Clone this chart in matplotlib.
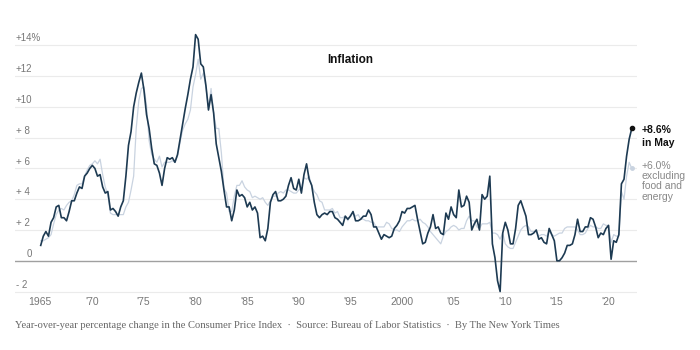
import numpy as np
import pandas as pd
import matplotlib
matplotlib.use('Agg')
import matplotlib.pyplot as plt

# quarterly readings (mid-month of each quarter: Feb, May, Aug, Nov), 1965Q1 - 2022Q2
cpi_all = [
  1.0, 1.6, 1.9, 1.6,   2.5, 2.8, 3.5, 3.6,   2.8, 2.8, 2.6, 3.2,   3.9, 3.9, 4.4, 4.8,
  4.7, 5.5, 5.7, 6.0,   6.2, 6.0, 5.5, 5.6,   4.8, 4.4, 4.5, 3.3,   3.4, 3.2, 2.9, 3.5,
  3.9, 5.5, 7.5, 8.4,   10.0, 10.9, 11.6, 12.2, 11.1, 9.5, 8.6, 7.3, 6.3, 6.2, 5.7, 4.9,
  6.0, 6.7, 6.6, 6.7,   6.4, 6.9, 7.9, 8.9,   9.9, 10.8, 11.8, 12.6, 14.7, 14.4, 12.8, 12.6,
  11.4, 9.8, 10.8, 9.6, 7.6, 6.7, 5.8, 4.6,   3.5, 3.5, 2.6, 3.3,   4.6, 4.2, 4.3, 4.1,
  3.5, 3.8, 3.3, 3.5,   3.1, 1.5, 1.6, 1.3,   2.1, 3.8, 4.3, 4.5,   3.9, 3.9, 4.0, 4.2,
  4.9, 5.4, 4.7, 4.6,   5.3, 4.4, 5.6, 6.3,   5.3, 4.9, 3.8, 3.0,   2.8, 3.0, 3.1, 3.0,
  3.2, 3.2, 2.8, 2.7,   2.5, 2.3, 2.9, 2.7,   2.9, 3.2, 2.6, 2.6,   2.7, 2.9, 2.9, 3.3,
  3.0, 2.2, 2.2, 1.8,   1.4, 1.7, 1.6, 1.5,   1.6, 2.1, 2.3, 2.6,   3.2, 3.1, 3.4, 3.4,
  3.5, 3.6, 2.7, 1.9,   1.1, 1.2, 1.8, 2.2,   3.0, 2.1, 2.2, 1.8,   1.7, 3.1, 2.7, 3.5,
  3.0, 2.8, 4.6, 3.5,   3.6, 4.2, 3.8, 2.0,   2.4, 2.7, 2.0, 4.3,   4.0, 4.2, 5.5, 1.1,
  0.2, -1.3, -2.0, 1.8, 2.5, 2.0, 1.1, 1.1,   2.1, 3.6, 3.9, 3.4,   2.9, 1.7, 1.7, 1.8,
  2.0, 1.4, 1.5, 1.2,   1.1, 2.1, 1.7, 1.3,   0.0, 0.0, 0.2, 0.5,   1.0, 1.0, 1.1, 1.7,
  2.7, 1.9, 1.9, 2.2,   2.2, 2.8, 2.7, 2.2,   1.5, 1.8, 1.7, 2.1,   2.3, 0.1, 1.3, 1.2,
  1.7, 5.0, 5.3, 6.8,   7.9, 8.6,
]
cpi_core = [
  1.3, 1.3, 1.4, 1.5,   1.7, 2.4, 3.0, 3.3,   3.4, 3.3, 3.6, 3.8,   3.9, 4.3, 4.9, 5.0,
  5.0, 5.5, 5.9, 6.2,   6.3, 6.5, 6.3, 6.6,   5.6, 4.8, 4.3, 3.1,   3.0, 3.0, 3.0, 3.0,
  3.0, 3.5, 3.8, 4.6,   5.5, 8.6, 10.4, 11.2, 11.3, 10.1, 7.8, 6.9, 6.6, 6.4, 6.8, 6.1,
  6.4, 6.4, 6.4, 6.5,   6.4, 6.8, 7.7, 8.5,   8.9, 9.2, 9.8, 11.3,  12.1, 13.1, 11.8, 12.2,
  11.3, 10.0, 11.2, 9.6, 8.6, 8.6, 7.0, 4.7,  4.4, 3.2, 3.2, 4.2,   4.9, 4.9, 5.2, 4.8,
  4.6, 4.5, 4.1, 4.2,   4.1, 4.0, 4.1, 3.8,   3.6, 3.9, 4.2, 4.2,   4.4, 4.5, 4.4, 4.6,
  4.6, 4.5, 4.4, 4.4,   4.6, 4.7, 5.4, 5.3,   5.5, 4.9, 4.5, 4.3,   3.9, 3.8, 3.3, 3.3,
  3.3, 3.4, 3.1, 3.2,   2.8, 2.8, 2.9, 2.6,   3.0, 3.1, 2.9, 3.0,   2.7, 2.7, 2.6, 2.6,
  2.5, 2.5, 2.2, 2.2,   2.2, 2.2, 2.5, 2.4,   2.1, 2.0, 2.0, 1.9,   2.2, 2.4, 2.6, 2.6,
  2.7, 2.6, 2.6, 2.7,   2.5, 2.4, 2.2, 1.9,   1.7, 1.5, 1.3, 1.1,   1.6, 1.9, 2.0, 2.2,
  2.3, 2.2, 2.0, 2.1,   2.1, 2.6, 2.9, 2.6,   2.6, 2.2, 2.1, 2.4,   2.4, 2.4, 2.5, 1.8,
  1.8, 1.7, 1.4, 1.8,   1.1, 0.9, 0.8, 0.8,   1.2, 1.6, 2.0, 2.2,   2.3, 2.2, 1.9, 1.9,
  1.9, 1.6, 1.7, 1.7,   1.6, 1.9, 1.7, 1.6,   1.7, 1.8, 1.8, 2.1,   2.2, 2.2, 2.2, 2.2,
  2.0, 1.7, 1.7, 1.8,   2.1, 2.3, 2.2, 2.2,   2.1, 2.1, 2.4, 2.3,   2.3, 1.2, 1.7, 1.6,
  1.6, 4.5, 4.0, 5.5,   6.4, 6.0,
]
ytick_vals = [14, 12, 10, 8, 6, 4, 2, 0, -2]
ytick_labels = ['+14%', '+12', '+10', '+ 8', '+ 6', '+ 4', '+ 2', '0', '- 2']
xtick_years = [1965, 1970, 1975, 1980, 1985, 1990, 1995, 2000, 2005, 2010, 2015, 2020]
xtick_labels = ['1965', "'70", "'75", "'80", "'85", "'90", "'95", '2000', "'05", "'10", "'15", "'20"]

DARK = '#1d3a52'
LIGHT = '#c9d3e0'
GRAY = '#777777'
SANS = ['Liberation Sans', 'DejaVu Sans']
SERIF = ['Liberation Serif', 'DejaVu Serif']

# dates -> decimal years (middle month of each quarter)
per = pd.period_range('1965Q1', '2022Q2', freq='Q')
t = per.year + (per.quarter * 3 - 2 - 0.5) / 12.0
t = np.asarray(t, dtype=float)

fig = plt.figure(figsize=(7, 3.5), dpi=100)
ax = fig.add_axes([15/700, 1 - 300/350, 622/700, 270/350])
ax.set_xlim(1962.55, 2022.8)
ax.set_ylim(-2.55, 15.0)
ax.axis('off')

for v in ytick_vals:
  if v == 0:
    ax.axhline(v, color='#a0a0a0', lw=1.0, zorder=1)
  else:
    ax.axhline(v, color='#ebebeb', lw=0.8, zorder=0)

for v, lab in zip(ytick_vals, ytick_labels):
  xoff = 12/700 if lab == '0' else 1/700
  ax.text(xoff / (622/700), v + 0.45, lab, transform=ax.get_yaxis_transform(),
          fontsize=7, color=GRAY, family=SANS, ha='left', va='center')

for yr, lab in zip(xtick_years, xtick_labels):
  ax.text(yr, -2.71, lab, fontsize=7.5, color=GRAY, family=SANS, ha='center', va='center',
          clip_on=False)

ax.plot(t, cpi_core, color=LIGHT, lw=0.9, zorder=2)
ax.plot(t, cpi_all, color=DARK, lw=1.2, zorder=3)
ax.plot(t[-1], cpi_all[-1], 'o', color='#111111', ms=3, zorder=4)
ax.plot(t[-1], cpi_core[-1], 'o', color=LIGHT, ms=2.5, zorder=4)

ax.text(1995.0, 13.05, 'Inflation', fontsize=8.5, fontweight='bold', family=SANS,
        color='#111111', ha='center', va='center')

fig.text(642/700, 1 - 130/350, '+8.6%', fontsize=7.5, fontweight='bold', family=SANS,
         color='#111111', va='center')
fig.text(642/700, 1 - 143/350, 'in May', fontsize=7.5, fontweight='bold', family=SANS,
         color='#111111', va='center')
for i, s in enumerate(['+6.0%', 'excluding', 'food and', 'energy']):
  fig.text(642/700, 1 - (166 + i*10.2)/350, s, fontsize=7.5, family=SANS, color='#888888',
           va='center')

fig.text(15/700, 1 - 325/350,
         'Year-over-year percentage change in the Consumer Price Index  \u00b7  '
         'Source: Bureau of Labor Statistics  \u00b7  By The New York Times',
         fontsize=7.55, family=SERIF, color='#666666', va='center')

fig.savefig('out.png', dpi=100, facecolor='white')
